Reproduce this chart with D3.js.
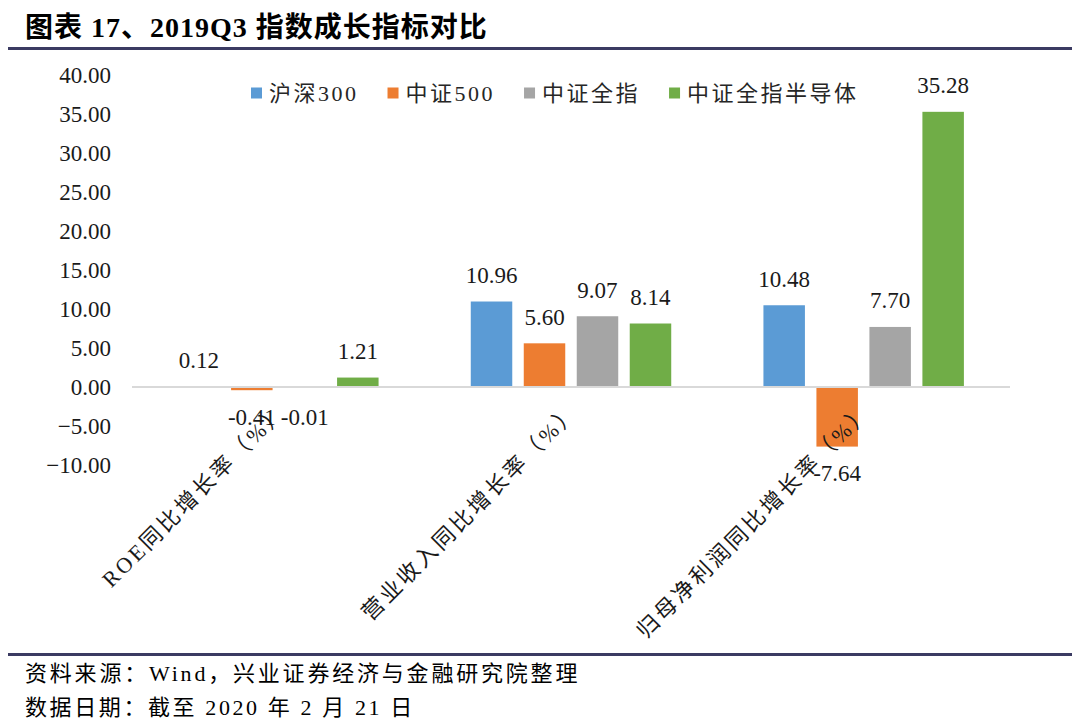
<!DOCTYPE html>
<html>
<head>
<meta charset="utf-8">
<script src="https://cdn.jsdelivr.net/npm/d3@7"></script>
<style>
  body { margin: 0; background: #fff; }
  svg { display: block; }
  .serif { font-family: "Liberation Serif", "Noto Sans CJK SC", serif; }
</style>
</head>
<body>
<svg id="chart"></svg>
<script>
const categories = ['ROE同比增长率（%）', '营业收入同比增长率（%）', '归母净利润同比增长率（%）'];
const series = ['沪深300', '中证500', '中证全指', '中证全指半导体'];
const colors = ['#5B9BD5', '#ED7D31', '#A5A5A5', '#70AD47'];
const hs300 = [0.12, 10.96, 10.48];
const zz500 = [-0.41, 5.60, -7.64];
const zzAll = [-0.01, 9.07, 7.70];
const zzSemi = [1.21, 8.14, 35.28];
const yTicks = [-10, -5, 0, 5, 10, 15, 20, 25, 30, 35, 40];

const values = [hs300, zz500, zzAll, zzSemi];

const w = 1080, h = 727;
const svg = d3.select('#chart').attr('width', w).attr('height', h);

// title + rules
svg.append('text')
    .attr('x', 25).attr('y', 37)
    .attr('class', 'serif')
    .attr('font-size', 28).attr('font-weight', 'bold')
    .attr('letter-spacing', 1)
    .attr('fill', '#000')
    .text('图表 17、2019Q3 指数成长指标对比');

svg.append('rect').attr('x', 8).attr('y', 47).attr('width', 1064).attr('height', 3).attr('fill', '#3b3b62');
svg.append('rect').attr('x', 8).attr('y', 653).attr('width', 1064).attr('height', 3).attr('fill', '#3b3b62');

const x0 = d3.scaleBand().domain(categories).range([132, 1010]);
const x1 = d3.scaleBand().domain(series).range([0, x0.bandwidth()])
    .paddingInner(0.217).paddingOuter(0.87);
const y = d3.scaleLinear().domain([-10, 40]).range([465, 75]);

// y axis labels only
const yAxis = d3.axisLeft(y).tickValues(yTicks).tickFormat(d3.format('.2f')).tickSize(0).tickPadding(0);
const yAxisG = svg.append('g').attr('transform', 'translate(111,0)').call(yAxis);
yAxisG.select('.domain').remove();
yAxisG.selectAll('text')
    .attr('class', 'serif')
    .attr('font-size', 23)
    .attr('fill', '#1a1a1a');

// bars
const rows = [];
series.forEach((s, i) => {
    categories.forEach((c, j) => rows.push({cat: c, s: s, i: i, v: values[i][j]}));
});

svg.append('g').selectAll('rect').data(rows)
    .enter().append('rect')
        .attr('x', d => x0(d.cat) + x1(d.s))
        .attr('width', x1.bandwidth())
        .attr('y', d => y(Math.max(0, d.v)))
        .attr('height', d => Math.abs(y(d.v) - y(0)))
        .attr('fill', d => colors[d.i]);

// zero line
svg.append('line')
    .attr('x1', x0.range()[0]).attr('x2', x0.range()[1])
    .attr('y1', y(0)).attr('y2', y(0))
    .attr('stroke', '#D9D9D9').attr('stroke-width', 2);

// value labels
svg.append('g').selectAll('text').data(rows)
    .enter().append('text')
        .attr('class', 'serif')
        .attr('x', d => x0(d.cat) + x1(d.s) + x1.bandwidth() / 2)
        .attr('y', d => d.v >= 0 ? y(d.v) - 26 : y(Math.min(d.v, -0.4)) + 27)
        .attr('text-anchor', 'middle')
        .attr('dominant-baseline', 'central')
        .attr('font-size', 23)
        .attr('fill', '#1a1a1a')
        .text(d => d.v.toFixed(2));

// category labels
svg.append('g').selectAll('text').data(categories)
    .enter().append('text')
        .attr('class', 'serif')
        .attr('transform', d => `translate(${x0(d) + x0.bandwidth() / 2 + 4},407) rotate(-45)`)
        .attr('text-anchor', 'end')
        .attr('dominant-baseline', 'central')
        .attr('font-size', 22)
        .attr('letter-spacing', 3)
        .attr('fill', '#1a1a1a')
        .text(d => d);

// legend
const legend = svg.append('g').attr('transform', 'translate(251,93)');
let lx = 0;
series.forEach((s, i) => {
    const item = legend.append('g').attr('transform', `translate(${lx},0)`);
    item.append('rect').attr('x', 0).attr('y', -5.5).attr('width', 11).attr('height', 11).attr('fill', colors[i]);
    const t = item.append('text')
        .attr('class', 'serif')
        .attr('x', 18).attr('y', 0)
        .attr('dominant-baseline', 'central')
        .attr('font-size', 22)
        .attr('letter-spacing', 2.5)
        .attr('fill', '#262626')
        .text(s);
    lx += 18 + t.node().getComputedTextLength() + 29;
});

// footer
svg.append('text').attr('class', 'serif')
    .attr('x', 25).attr('y', 681).attr('font-size', 22).attr('letter-spacing', 2.8).attr('fill', '#000')
    .text('资料来源：Wind，兴业证券经济与金融研究院整理');
svg.append('text').attr('class', 'serif')
    .attr('x', 25).attr('y', 715).attr('font-size', 22).attr('letter-spacing', 2.6).attr('fill', '#000')
    .text('数据日期：截至 2020 年 2 月 21 日');
</script>
</body>
</html>
